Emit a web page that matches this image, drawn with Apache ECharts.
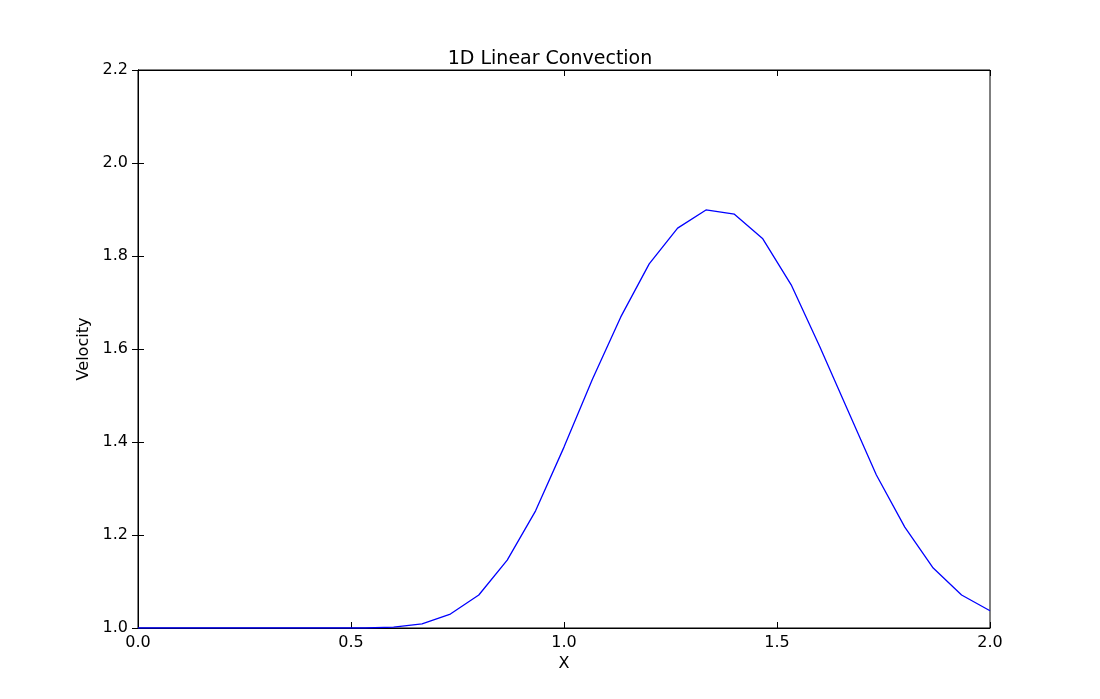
<!DOCTYPE html>
<html><head><meta charset="utf-8">
<script src="https://cdn.jsdelivr.net/npm/echarts@6/dist/echarts.min.js"></script>
<style>html,body{margin:0;padding:0;background:#fff}#c{width:1100px;height:699px}</style>
</head><body><div id="c"></div>
<script>
const xValues = Array.from({length:31},(_,k)=>+(k*2/30).toFixed(4));
const velocity = [1,1,1,1,1,1,1,1,1,1.002,1.009,1.03,1.071,1.146,1.252,1.389,1.535,1.669,1.783,1.860,1.899,1.890,1.837,1.738,1.606,1.467,1.329,1.217,1.129,1.071,1.037];
const font = 'DejaVu Sans';
const axCommon = {
  axisLine:{show:true,lineStyle:{color:'#000',width:1}},
  axisTick:{show:true,inside:true,length:6,lineStyle:{color:'#000'}},
  splitLine:{show:false},
};
const chart = echarts.init(document.getElementById('c'));
chart.setOption({
  animation:false,
  title:{text:'1D Linear Convection',left:'center',top:45,textStyle:{fontFamily:font,fontWeight:'normal',fontSize:19,color:'#000'}},
  grid:{left:138,right:110,top:70,bottom:71,show:true,borderColor:'#000',borderWidth:1,backgroundColor:'transparent'},
  xAxis:[
    Object.assign({type:'value',min:0,max:2,interval:0.5,name:'X',nameLocation:'middle',nameGap:27,
      nameTextStyle:{fontFamily:font,fontSize:16,color:'#000'},
      axisLabel:{fontFamily:font,fontSize:16,color:'#000',margin:7,formatter:v=>v.toFixed(1)}},axCommon),
    Object.assign({type:'value',position:'top',min:0,max:2,interval:0.5,axisLabel:{show:false}},axCommon)
  ],
  yAxis:[
    Object.assign({type:'value',min:1.0,max:2.2,interval:0.2,name:'Velocity',nameLocation:'middle',nameGap:46,
      nameTextStyle:{fontFamily:font,fontSize:16,color:'#000'},
      axisLabel:{fontFamily:font,fontSize:16,color:'#000',margin:10,formatter:v=>v.toFixed(1)}},axCommon),
    Object.assign({type:'value',position:'right',min:1.0,max:2.2,interval:0.2,axisLabel:{show:false}},axCommon)
  ],
  series:[{type:'line',data:xValues.map((x,i)=>[x,velocity[i]]),showSymbol:false,
    lineStyle:{color:'#0000ff',width:1.3}}]
});
</script></body></html>
